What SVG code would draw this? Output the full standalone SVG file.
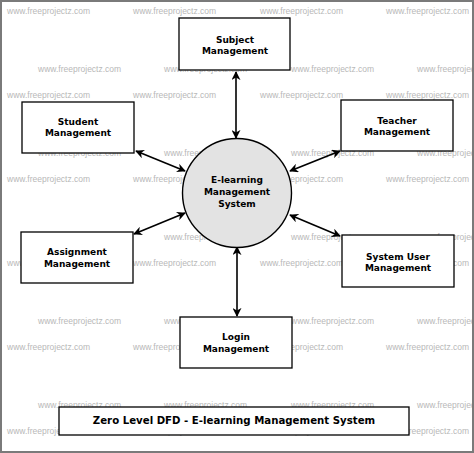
<svg xmlns="http://www.w3.org/2000/svg" width="474" height="453" viewBox="0 0 474 453">
<style>
.wm{font-family:"Liberation Sans",Arial,sans-serif;font-size:8.5px;fill:#b8b8b8}
.box{fill:#fff;stroke:#000;stroke-width:1.3}
.lbl{font-family:"DejaVu Sans",sans-serif;font-weight:bold;font-size:9px;fill:#000;text-anchor:middle}
.ttl{font-family:"DejaVu Sans",sans-serif;font-weight:bold;font-size:10.2px;fill:#000;text-anchor:middle}
.con{stroke:#000;stroke-width:1.6;fill:none;marker-start:url(#ah);marker-end:url(#ah)}
</style>
<defs>
<marker id="ah" viewBox="0 0 10 10" refX="9" refY="5" markerWidth="9" markerHeight="9" markerUnits="userSpaceOnUse" orient="auto-start-reverse">
<path d="M0,0 L10,5 L0,10 L3,5 z" fill="#000"/>
</marker>
</defs>
<rect x="0" y="0" width="474" height="453" fill="#fff"/>
<g id="watermarks">
<text class="wm" x="7" y="14">www.freeprojectz.com</text>
<text class="wm" x="133" y="14">www.freeprojectz.com</text>
<text class="wm" x="260" y="14">www.freeprojectz.com</text>
<text class="wm" x="386" y="14">www.freeprojectz.com</text>
<text class="wm" x="38" y="72">www.freeprojectz.com</text>
<text class="wm" x="164" y="72">www.freeprojectz.com</text>
<text class="wm" x="291" y="72">www.freeprojectz.com</text>
<text class="wm" x="417" y="72">www.freeprojectz.com</text>
<text class="wm" x="7" y="98">www.freeprojectz.com</text>
<text class="wm" x="133" y="98">www.freeprojectz.com</text>
<text class="wm" x="260" y="98">www.freeprojectz.com</text>
<text class="wm" x="386" y="98">www.freeprojectz.com</text>
<text class="wm" x="38" y="156">www.freeprojectz.com</text>
<text class="wm" x="164" y="156">www.freeprojectz.com</text>
<text class="wm" x="291" y="156">www.freeprojectz.com</text>
<text class="wm" x="417" y="156">www.freeprojectz.com</text>
<text class="wm" x="7" y="182">www.freeprojectz.com</text>
<text class="wm" x="133" y="182">www.freeprojectz.com</text>
<text class="wm" x="260" y="182">www.freeprojectz.com</text>
<text class="wm" x="386" y="182">www.freeprojectz.com</text>
<text class="wm" x="38" y="240">www.freeprojectz.com</text>
<text class="wm" x="164" y="240">www.freeprojectz.com</text>
<text class="wm" x="291" y="240">www.freeprojectz.com</text>
<text class="wm" x="417" y="240">www.freeprojectz.com</text>
<text class="wm" x="7" y="266">www.freeprojectz.com</text>
<text class="wm" x="133" y="266">www.freeprojectz.com</text>
<text class="wm" x="260" y="266">www.freeprojectz.com</text>
<text class="wm" x="386" y="266">www.freeprojectz.com</text>
<text class="wm" x="38" y="324">www.freeprojectz.com</text>
<text class="wm" x="164" y="324">www.freeprojectz.com</text>
<text class="wm" x="291" y="324">www.freeprojectz.com</text>
<text class="wm" x="417" y="324">www.freeprojectz.com</text>
<text class="wm" x="7" y="350">www.freeprojectz.com</text>
<text class="wm" x="133" y="350">www.freeprojectz.com</text>
<text class="wm" x="260" y="350">www.freeprojectz.com</text>
<text class="wm" x="386" y="350">www.freeprojectz.com</text>
<text class="wm" x="38" y="408">www.freeprojectz.com</text>
<text class="wm" x="164" y="408">www.freeprojectz.com</text>
<text class="wm" x="291" y="408">www.freeprojectz.com</text>
<text class="wm" x="417" y="408">www.freeprojectz.com</text>
<text class="wm" x="7" y="434">www.freeprojectz.com</text>
<text class="wm" x="133" y="434">www.freeprojectz.com</text>
<text class="wm" x="260" y="434">www.freeprojectz.com</text>
<text class="wm" x="386" y="434">www.freeprojectz.com</text>
</g>
<g id="connectors">
<line class="con" x1="236" y1="72" x2="236" y2="138"/>
<line class="con" x1="136" y1="151" x2="185" y2="171"/>
<line class="con" x1="340" y1="151" x2="290" y2="171"/>
<line class="con" x1="134" y1="234" x2="185" y2="213"/>
<line class="con" x1="340" y1="236" x2="290" y2="215"/>
<line class="con" x1="237" y1="247" x2="237" y2="316"/>
</g>
<g id="subject">
<rect class="box" x="179" y="18" width="111" height="52"/>
<text class="lbl" x="235" y="43">Subject</text>
<text class="lbl" x="235" y="54">Management</text>
</g>
<g id="student">
<rect class="box" x="22" y="102" width="112" height="51"/>
<text class="lbl" x="78" y="125">Student</text>
<text class="lbl" x="78" y="136">Management</text>
</g>
<g id="teacher">
<rect class="box" x="341" y="100" width="112" height="51"/>
<text class="lbl" x="397" y="124">Teacher</text>
<text class="lbl" x="397" y="135">Management</text>
</g>
<g id="system">
<circle cx="237" cy="193" r="54.5" fill="#e3e3e3" stroke="#000" stroke-width="1.4"/>
<text class="lbl" x="237" y="183">E-learning</text>
<text class="lbl" x="237" y="195">Management</text>
<text class="lbl" x="237" y="207">System</text>
</g>
<g id="assignment">
<rect class="box" x="21" y="232" width="112" height="51"/>
<text class="lbl" x="77" y="255">Assignment</text>
<text class="lbl" x="77" y="267">Management</text>
</g>
<g id="systemuser">
<rect class="box" x="342" y="235" width="112" height="52"/>
<text class="lbl" x="398" y="260">System User</text>
<text class="lbl" x="398" y="271">Management</text>
</g>
<g id="login">
<rect class="box" x="180" y="317" width="112" height="51"/>
<text class="lbl" x="236" y="340">Login</text>
<text class="lbl" x="236" y="352">Management</text>
</g>
<g id="title">
<rect class="box" x="59" y="407" width="350" height="28"/>
<text class="ttl" x="234" y="424">Zero Level DFD - E-learning Management System</text>
</g>
<rect x="1" y="1" width="472" height="451" fill="none" stroke="#7a7a7a" stroke-width="2"/>
</svg>
